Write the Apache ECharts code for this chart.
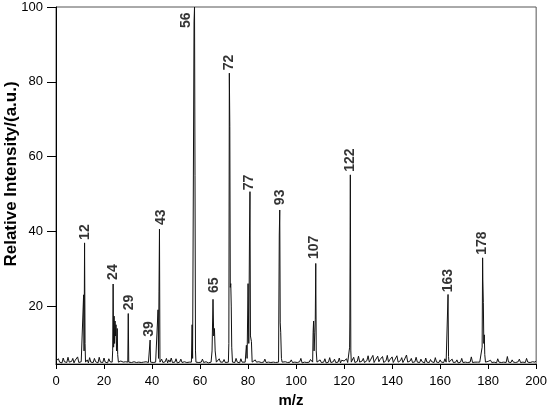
<!DOCTYPE html>
<html>
<head>
<meta charset="utf-8">
<script src="https://cdn.jsdelivr.net/npm/echarts@6/dist/echarts.min.js"></script>
<style>
  html, body { margin: 0; padding: 0; background: #fff; }
  #chart { width: 550px; height: 410px; }
</style>
</head>
<body>
<div id="chart"></div>
<script>
// Baseline noise, one value per integer m/z from 0 to 200
const noiseLevels = [
  5.3,5.9,5.2,6.1,5.4,6.3,5.1,6.0,5.5,6.4,
  5.2,5.9,5.0,5.6,6.2,5.3,6.0,5.4,6.3,5.2,
  6.1,5.5,5.9,5.1,5.0,5.2,5.0,5.3,5.0,5.1,
  5.0,5.2,4.9,5.3,5.0,5.4,5.1,5.3,5.0,5.2,
  5.4,5.1,5.0,5.0,5.8,5.3,6.0,5.6,6.1,5.4,
  5.9,5.2,5.8,5.1,5.6,5.0,5.2,5.0,5.0,5.1,
  5.2,5.8,5.1,5.5,5.0,5.0,5.0,5.3,5.9,5.2,
  5.7,5.1,5.0,5.0,5.4,6.0,5.3,5.9,5.2,5.0,
  5.0,5.0,5.1,5.6,5.0,5.4,5.1,5.8,5.0,5.3,
  5.0,5.5,5.1,5.0,5.0,5.0,5.3,5.0,5.6,5.1,
  5.5,5.0,6.0,5.2,5.4,5.0,5.7,5.0,5.0,5.0,
  5.6,5.1,5.9,5.3,6.2,5.4,5.8,5.2,6.1,5.5,
  5.3,5.9,5.0,5.2,6.3,5.4,6.6,5.5,6.0,5.4,
  6.7,5.6,6.8,5.5,6.6,5.7,6.5,5.4,6.8,5.6,
  6.4,5.5,6.7,5.3,6.2,5.5,6.9,5.4,6.0,5.3,
  6.3,5.2,5.8,5.4,6.1,5.1,5.7,5.3,6.2,5.2,
  5.6,5.1,5.9,5.0,5.2,5.8,5.1,5.6,5.2,6.0,
  5.3,5.5,5.0,6.4,5.2,5.0,5.0,5.0,5.0,5.0,
  5.2,5.5,5.0,5.3,5.9,5.1,5.4,5.0,6.5,5.2,
  5.6,5.0,5.3,5.8,5.1,5.5,6.0,5.2,5.4,5.6,
  5.3
];
// Baseline noise at half-integer m/z (0.5, 1.5, ..., 199.5)
const noiseHalf = [
  4.9,5.0,4.8,5.1,4.9,5.0,5.2,4.8,5.0,4.9,
  5.1,4.9,5.0,4.8,5.0,4.9,5.1,4.8,5.0,4.9,
  5.0,4.8,5.1,4.9,5.0,5.0,5.0,4.9,5.0,4.9,
  5.0,4.9,5.1,4.9,5.0,4.9,5.0,5.1,4.9,5.0,
  4.9,5.0,5.0,5.0,4.9,5.1,4.8,5.0,4.9,5.0,
  4.8,5.0,4.9,5.1,4.9,5.0,5.0,5.0,5.0,4.9,
  5.0,4.9,5.1,4.8,5.0,5.0,5.0,4.9,5.0,5.0,
  4.9,5.0,5.0,5.0,4.9,5.0,4.8,5.0,5.0,5.0,
  5.0,5.0,4.9,5.0,5.1,4.9,5.0,4.9,5.0,4.9,
  5.0,4.9,5.0,5.0,5.0,5.1,4.9,5.0,4.9,5.0,
  4.9,5.1,4.8,5.0,4.9,5.0,4.9,5.0,5.0,5.0,
  4.9,5.0,4.8,5.0,4.9,5.1,4.9,5.0,4.8,5.0,
  5.0,4.9,5.0,5.0,4.9,5.2,5.0,5.3,4.9,5.4,
  5.0,5.5,4.9,5.3,5.1,5.6,4.9,5.4,5.0,5.5,
  4.9,5.3,5.0,5.4,4.9,5.2,5.0,5.3,4.9,5.1,
  5.0,4.9,5.1,4.8,5.0,4.9,5.1,4.9,5.0,4.9,
  5.0,4.9,5.0,5.0,5.0,4.9,5.0,4.8,5.0,4.9,
  5.0,4.9,5.0,4.9,5.0,5.0,5.0,5.0,5.0,4.9,
  5.0,4.9,5.0,4.8,5.0,4.9,5.0,4.9,5.0,4.9,
  5.0,4.9,5.1,4.9,5.0,4.9,5.0,4.9,5.1,5.0
];

// Peak profile points (m/z, relative intensity)
const peakMz = [
  11.3,11.5,11.7,11.9,12.1,12.3,
  23.4,23.6,23.8,24.0,24.2,24.4,24.6,24.8,25.0,25.2,25.5,25.7,26.0,
  29.9,30.1,30.3,
  39.0,39.2,39.4,
  42.3,42.5,42.7,42.9,43.1,43.3,
  56.4,56.7,56.9,57.5,57.7,57.9,58.1,58.3,
  64.6,65.0,65.4,65.7,66.0,66.3,66.8,
  71.8,72.0,72.2,72.4,72.6,72.8,73.0,73.2,73.5,
  78.8,79.3,79.6,80.0,80.3,80.6,80.8,81.0,81.4,81.7,
  92.7,93.0,93.2,93.4,93.6,93.9,94.2,
  106.9,107.1,107.3,107.5,107.8,108.0,108.2,108.4,108.7,
  122.0,122.3,122.4,122.6,122.8,123.0,
  163.1,163.3,163.5,163.7,
  177.2,177.5,177.7,177.8,178.0,178.2,178.4,178.6,178.9
];
const peakIntensity = [
  5.2,23,8,36.9,10,5,
  5,8,25.9,9,17.3,10,16,12,15,8,14,7,5,
  5,18,5,
  5,10.9,5,
  5,19,6,24,40.6,5,
  5,15,6,96,100,55,8,5,
  5,8,21.8,12,14,8,5,
  5,10,82.3,68,25,26,20,9,5,
  5,9.5,6,26,10,39,50.6,12,10.5,5,
  5,39,45.7,15.5,13,6,5,
  5,13,16,8,13,16.5,31.4,8,5,
  5,9,16,55.1,8,5,
  5,23.1,6.5,5,
  5,9,32.9,27,21,10,12.3,7,5
];

// Peak annotations: text, m/z where the label sits, intensity at label base
const peakLabels = ['12','24','29','39','43','56','65','72','77','93','107','122','163','178'];
const labelMz    = [12.0,23.8,30.3,38.7,43.6,54.1,65.8,72.2,80.5,93.4,107.7,122.6,163.3,177.6];
const labelBase  = [37.7,27.0,18.9,11.8,41.7,94.4,23.5,83.1,51.0,47.0,32.6,55.9,23.7,33.7];

const xTicks = [0,20,40,60,80,100,120,140,160,180,200];
const yTicks = [20,40,60,80,100];

// Build spectrum: noise points away from peaks, plus peak points, sorted by m/z
const spectrum = [];
const addNoise = (m, v) => {
  const near = peakMz.some(p => Math.abs(p - m) < 0.45);
  if (!near) spectrum.push([m, v]);
};
noiseLevels.forEach((v, i) => addNoise(i, v));
noiseHalf.forEach((v, i) => addNoise(i + 0.5, v));
peakMz.forEach((m, i) => spectrum.push([m, peakIntensity[i]]));
spectrum.sort((a, b) => a[0] - b[0]);

const labelData = peakLabels.map((t, i) => ({ value: [labelMz[i], labelBase[i]], name: t }));

const chart = echarts.init(document.getElementById('chart'), null, { renderer: 'canvas' });
const FONT = 'Arial, "Liberation Sans", sans-serif';
chart.setOption({
  animation: false,
  backgroundColor: '#fff',
  grid: {
    left: 56, right: 13, top: 7, bottom: 46,
    show: true, borderColor: '#555', borderWidth: 1, backgroundColor: 'transparent'
  },
  xAxis: {
    type: 'value', min: 0, max: 200, interval: 20,
    axisLine: { show: true, onZero: false, lineStyle: { color: '#000', width: 1 } },
    axisTick: { show: true, inside: false, length: 5, lineStyle: { color: '#000' } },
    axisLabel: { color: '#000', fontSize: 13, fontFamily: FONT, margin: 11,
      customValues: xTicks },
    splitLine: { show: false }
  },
  yAxis: {
    type: 'value', min: 4.5, max: 100,
    axisLine: { show: true, onZero: false, lineStyle: { color: '#000', width: 1 } },
    axisTick: { show: true, inside: false, length: 9, lineStyle: { color: '#000' },
      customValues: yTicks },
    axisLabel: { color: '#000', fontSize: 13, fontFamily: FONT, margin: 13,
      customValues: yTicks },
    splitLine: { show: false }
  },
  graphic: [
    {
      type: 'text', x: 11, y: 174, rotation: Math.PI / 2,
      style: { text: 'Relative Intensity/(a.u.)', fill: '#000',
        font: 'bold 17px ' + FONT, textAlign: 'center', textVerticalAlign: 'middle' }
    },
    {
      type: 'text', x: 291, y: 401,
      style: { text: 'm/z', fill: '#000',
        font: 'bold 15px ' + FONT, textAlign: 'center', textVerticalAlign: 'middle' }
    }
  ],
  series: [
    {
      type: 'line',
      data: spectrum,
      showSymbol: false,
      lineStyle: { color: '#111', width: 1 },
      clip: true,
      silent: true
    },
    {
      type: 'scatter',
      data: labelData,
      symbolSize: 0,
      silent: true,
      label: {
        show: true, position: 'top', distance: 0, rotate: 90,
        align: 'left', verticalAlign: 'middle',
        formatter: p => p.name,
        color: '#000', fontSize: 14, fontWeight: 'bold', fontFamily: FONT
      }
    }
  ]
});
</script>
</body>
</html>
